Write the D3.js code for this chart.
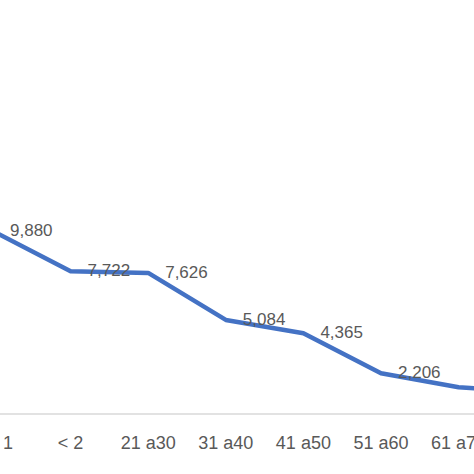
<!DOCTYPE html><html><head><meta charset="utf-8"><script src="https://cdn.jsdelivr.net/npm/d3@7"></script>
<style>body{margin:0;background:#fff}</style></head><body><svg id="c" width="474" height="474"></svg><script>
const categories=["0 a 1","< 2","21 a 30","31 a 40","41 a 50","51 a 60","61 a 70","> 70"];
const values=[9880,7722,7626,5084,4365,2206,1450,1150];
const tickLabels=["0 a 1","< 2","21 a30","31 a40","41 a50","51 a60","61 a70","> 70"];
const labelShown=[true,true,true,true,true,true,false,false];
const svg=d3.select("#c");
const x=d3.scalePoint().domain(categories).range([-7,-7+77.6*7]);
const y=d3.scaleLinear().domain([0,10000]).range([414,229]);
svg.append("line").attr("x1",0).attr("x2",474).attr("y1",414).attr("y2",414).attr("stroke","#d9d9d9").attr("stroke-width",1.5);
svg.append("path").datum(values).attr("fill","none").attr("stroke","#4472c4").attr("stroke-width",4.5).attr("stroke-linejoin","round")
 .attr("d",d3.line().x((d,i)=>x(categories[i])).y(d=>y(d)));
svg.selectAll(".v").data(values).enter().filter((d,i)=>labelShown[i]).append("text")
 .attr("x",(d,i)=>x(categories[values.indexOf(d)])+17).attr("y",d=>y(d)+5)
 .attr("font-family","Liberation Sans, Arial").attr("font-size",17).attr("fill","#595959")
 .text(d=>d3.format(",")(d));
svg.selectAll(".t").data(categories).enter().append("text")
 .attr("x",d=>x(d)).attr("y",449).attr("text-anchor","middle")
 .attr("font-family","Liberation Sans, Arial").attr("font-size",18).attr("fill","#595959")
 .text((d,i)=>tickLabels[i]);
</script></body></html>
